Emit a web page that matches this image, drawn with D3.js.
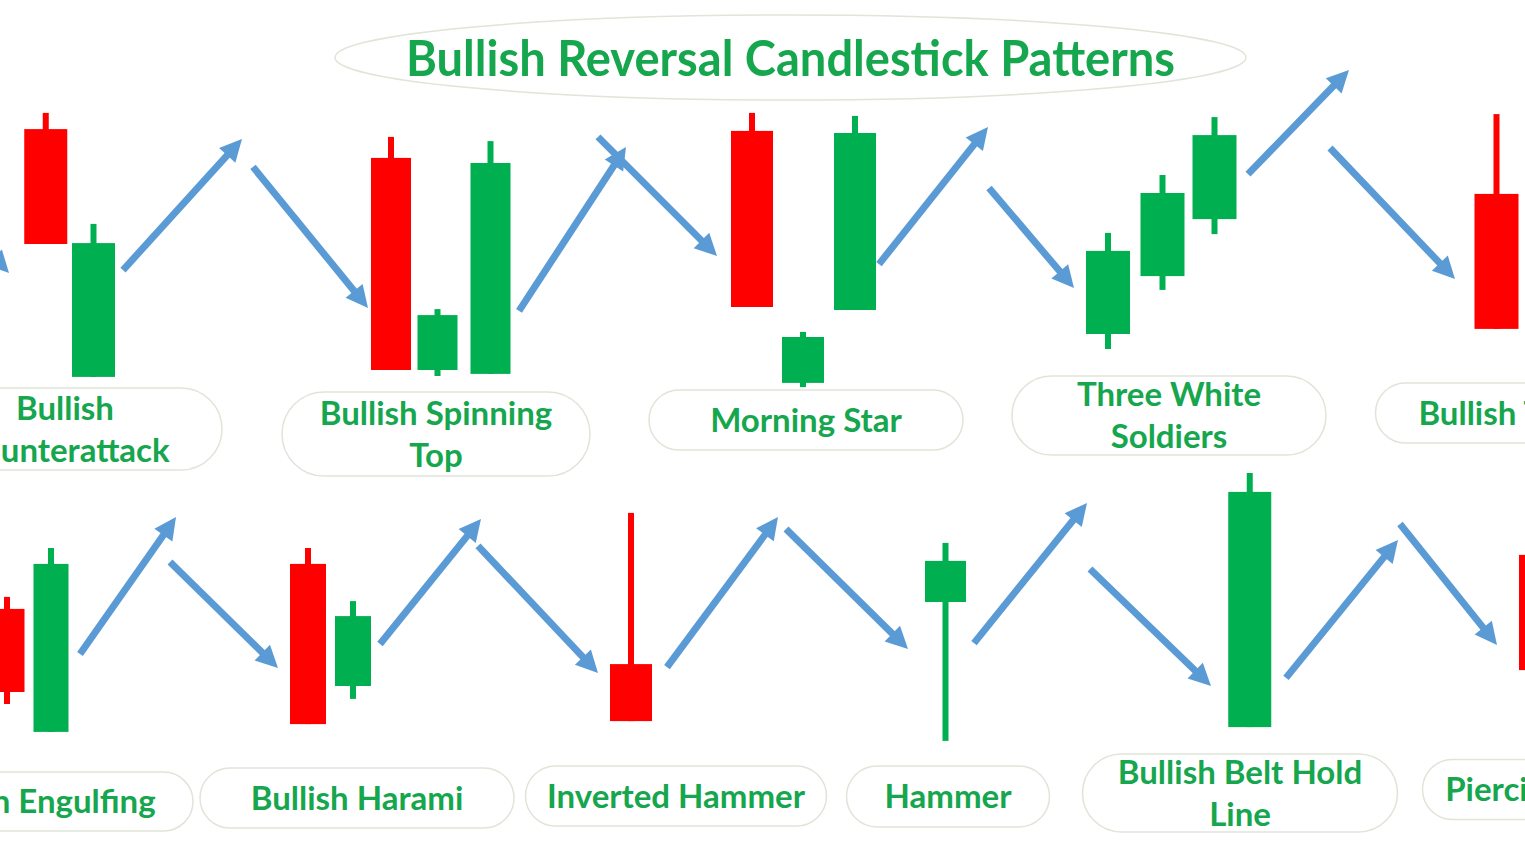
<!DOCTYPE html>
<html>
<head>
<meta charset="utf-8">
<script src="https://cdn.jsdelivr.net/npm/d3@7"></script>
<style>
  body { margin: 0; background: #ffffff; }
  svg { display: block; }
</style>
</head>
<body>
<div id="chart"></div>
<script>
// CANDLESTICK INFOGRAPHIC
// frame setup
const FRAME_WIDTH = 1525;
const FRAME_HEIGHT = 857;

// ---- data ----
const TITLE = "Bullish Reversal Candlestick Patterns";

// pattern names, "\n" marks a line break in the label
const PATTERNS = [
  "Bullish\nCounterattack", "Bullish Spinning\nTop", "Morning Star", "Three White\nSoldiers", "Bullish Tweezer",
  "Bullish Engulfing", "Bullish Harami", "Inverted Hammer", "Hammer", "Bullish Belt Hold\nLine", "Piercing Pattern"
];
// which row every pattern sits in, and its centre on the time axis
const PATTERN_ROW = [0, 0, 0, 0, 0, 1, 1, 1, 1, 1, 1];
const PATTERN_T = [2.6, 17.44, 32.24, 46.76, 61.3, 1.36, 14.28, 27.04, 37.92, 49.6, 62.5];

// candles: pattern index, time, open, high, low, close
const TOP_CANDLES = [
  {p: 0, t: 1.83,  open: 90.3, high: 95.7, low: 52.0, close: 52.0},
  {p: 0, t: 3.74,  open: 7.7,  high: 58.7, low: 7.7,  close: 52.3},
  {p: 1, t: 15.64, open: 80.7, high: 87.7, low: 10.0, close: 10.0},
  {p: 1, t: 17.5,  open: 10.0, high: 30.3, low: 8.0,  close: 28.3},
  {p: 1, t: 19.62, open: 8.7,  high: 86.3, low: 8.7,  close: 79.0},
  {p: 2, t: 30.08, open: 89.7, high: 95.7, low: 31.0, close: 31.0},
  {p: 2, t: 32.12, open: 5.7,  high: 22.7, low: 4.3,  close: 21.0},
  {p: 2, t: 34.2,  open: 30.0, high: 94.7, low: 30.0, close: 89.0},
  {p: 3, t: 44.32, open: 22.0, high: 55.7, low: 17.0, close: 49.7},
  {p: 3, t: 46.5,  open: 41.3, high: 75.0, low: 36.7, close: 69.0},
  {p: 3, t: 48.58, open: 60.3, high: 94.3, low: 55.3, close: 88.3},
  {p: 4, t: 59.86, open: 68.7, high: 95.3, low: 23.7, close: 23.7}
];
const BOTTOM_CANDLES = [
  {p: 5, t: 0.28,  open: 53.7, high: 57.7, low: 22.0, close: 26.0},
  {p: 5, t: 2.04,  open: 12.7, high: 74.0, low: 12.7, close: 68.7},
  {p: 6, t: 12.32, open: 68.7, high: 74.0, low: 15.3, close: 15.3},
  {p: 6, t: 14.12, open: 28.0, high: 56.3, low: 23.7, close: 51.3},
  {p: 7, t: 25.24, open: 35.3, high: 85.7, low: 16.3, close: 16.3},
  {p: 8, t: 37.82, open: 56.0, high: 75.7, low: 9.7,  close: 69.7},
  {p: 9, t: 49.99, open: 14.3, high: 99.0, low: 14.3, close: 92.7},
  {p: 10, t: 61.6, open: 71.7, high: 71.7, low: 33.3, close: 33.3}
];

// trend arrows: [t start, price start, t end, price end]
const TOP_ARROWS = [
  [-2.4, 66.7, 0.36, 42.3],
  [4.92, 43.3, 9.68, 87.0],
  [10.12, 77.7, 14.72, 30.7],
  [20.76, 29.7, 25.04, 84.3],
  [23.92, 87.7, 28.68, 48.0],
  [35.16, 45.3, 39.52, 91.0],
  [39.56, 70.7, 42.96, 37.3],
  [49.92, 75.3, 53.96, 110.0],
  [53.2, 84.0, 58.2, 40.3]
];
const BOTTOM_ARROWS = [
  [3.2, 38.7, 7.04, 84.3],
  [6.8, 69.3, 11.12, 34.0],
  [15.2, 42.0, 19.24, 83.7],
  [19.12, 74.7, 23.92, 32.3],
  [26.68, 34.3, 31.12, 84.3],
  [31.44, 80.3, 36.32, 40.3],
  [38.96, 42.3, 43.48, 89.0],
  [43.6, 67.0, 48.44, 28.0],
  [51.44, 30.7, 55.92, 76.7],
  [56.0, 82.0, 59.88, 41.7]
];

// ---- layout (sizes, not data) ----
const BODY_W = [43, 40, 42, 44, 44, 35, 36, 42, 41, 43, 42];
const WICK_W = 6;
const LABEL_BOX = [
  {cy: 429, w: 314, h: 82}, {cy: 434, w: 308, h: 84}, {cy: 420, w: 314, h: 60},
  {cy: 415.5, w: 314, h: 79}, {cy: 413, w: 314, h: 60},
  {cy: 801.5, w: 318, h: 59}, {cy: 798, w: 314, h: 60}, {cy: 796, w: 301, h: 60},
  {cy: 796.5, w: 203, h: 61}, {cy: 793, w: 315, h: 78}, {cy: 789.5, w: 280, h: 60}
];
const LINE_GAP = 42;
const LABEL_SIZE = 33;
const TITLE_SIZE = 50;
const TITLE_WIDTH = 769; // width of the title text in the picture

const RED = "#ff0000";
const GREEN = "#00b050";
const TEXT_GREEN = "#15a64e";
const ARROW_BLUE = "#5b9bd5";
const PILL_STROKE = "#dfe5d8";

const FRAME1 = d3.select("#chart")
                  .append("svg")
                    .attr("width", FRAME_WIDTH)
                    .attr("height", FRAME_HEIGHT);

FRAME1.append("rect")
        .attr("width", FRAME_WIDTH)
        .attr("height", FRAME_HEIGHT)
        .attr("fill", "#ffffff");

// time axis is shared, every row has its own price scale
const X_SCALE = d3.scaleLinear()
                    .domain([0, 61])
                    .range([0, 1525]);
const Y_SCALES = [
  d3.scaleLinear().domain([0, 100]).range([400, 100]),
  d3.scaleLinear().domain([0, 100]).range([770, 470])
];

// draws the candles of one row
function draw_candles(candles, yScale) {
    const g = FRAME1.append("g");
    // wicks
    g.selectAll(".wick")
        .data(candles)
        .enter()
        .append("rect")
          .attr("class", "wick")
          .attr("x", (d) => { return X_SCALE(d.t) - WICK_W / 2; })
          .attr("y", (d) => { return yScale(d.high); })
          .attr("width", WICK_W)
          .attr("height", (d) => { return yScale(d.low) - yScale(d.high); })
          .attr("fill", (d) => { return d.close < d.open ? RED : GREEN; });
    // bodies
    g.selectAll(".body")
        .data(candles)
        .enter()
        .append("rect")
          .attr("class", "body")
          .attr("x", (d) => { return X_SCALE(d.t) - BODY_W[d.p] / 2; })
          .attr("y", (d) => { return yScale(Math.max(d.open, d.close)); })
          .attr("width", (d) => { return BODY_W[d.p]; })
          .attr("height", (d) => { return Math.abs(yScale(d.open) - yScale(d.close)); })
          .attr("fill", (d) => { return d.close < d.open ? RED : GREEN; });
}

// draws the blue trend arrows of one row
function draw_arrows(arrows, yScale) {
    const HEAD_LEN = 22, HEAD_HALF = 11;
    const g = FRAME1.append("g");
    arrows.forEach((a) => {
        const x0 = X_SCALE(a[0]), y0 = yScale(a[1]);
        const x1 = X_SCALE(a[2]), y1 = yScale(a[3]);
        const len = Math.hypot(x1 - x0, y1 - y0);
        const ux = (x1 - x0) / len, uy = (y1 - y0) / len;
        // shaft stops inside the head
        g.append("line")
            .attr("x1", x0).attr("y1", y0)
            .attr("x2", x1 - ux * HEAD_LEN * 0.7)
            .attr("y2", y1 - uy * HEAD_LEN * 0.7)
            .attr("stroke", ARROW_BLUE)
            .attr("stroke-width", 7);
        const bx = x1 - ux * HEAD_LEN, by = y1 - uy * HEAD_LEN;
        g.append("path")
            .attr("d", d3.line()([[x1, y1], [bx - uy * HEAD_HALF, by + ux * HEAD_HALF], [bx + uy * HEAD_HALF, by - ux * HEAD_HALF]]) + "Z")
            .attr("fill", ARROW_BLUE);
    });
}

draw_candles(TOP_CANDLES, Y_SCALES[0]);
draw_candles(BOTTOM_CANDLES, Y_SCALES[1]);
draw_arrows(TOP_ARROWS, Y_SCALES[0]);
draw_arrows(BOTTOM_ARROWS, Y_SCALES[1]);

// title in its ellipse
FRAME1.append("ellipse")
        .attr("cx", 790.5)
        .attr("cy", 57.5)
        .attr("rx", 455.5)
        .attr("ry", 42.5)
        .attr("fill", "#ffffff")
        .attr("stroke", PILL_STROKE)
        .attr("stroke-width", 1.5);
FRAME1.append("text")
        .attr("x", 790.5)
        .attr("y", 57.5 + TITLE_SIZE * 0.36)
        .attr("text-anchor", "middle")
        .attr("font-family", "Lato, 'Noto Sans', sans-serif")
        .attr("font-weight", "bold")
        .attr("font-size", TITLE_SIZE)
        .attr("fill", TEXT_GREEN)
        .attr("textLength", TITLE_WIDTH)
        .attr("lengthAdjust", "spacingAndGlyphs")
        .text(TITLE);

// pattern labels in rounded pills
const LABELS = FRAME1.selectAll(".label")
    .data(PATTERNS)
    .enter()
    .append("g")
      .attr("class", "label")
      .attr("transform", (d, i) => { return "translate(" + X_SCALE(PATTERN_T[i]) + "," + LABEL_BOX[i].cy + ")"; });

LABELS.append("rect")
    .attr("x", (d, i) => { return -LABEL_BOX[i].w / 2; })
    .attr("y", (d, i) => { return -LABEL_BOX[i].h / 2; })
    .attr("width", (d, i) => { return LABEL_BOX[i].w; })
    .attr("height", (d, i) => { return LABEL_BOX[i].h; })
    .attr("rx", (d, i) => { return LABEL_BOX[i].h / 2; })
    .attr("fill", "#ffffff")
    .attr("stroke", PILL_STROKE)
    .attr("stroke-width", 1.5);

LABELS.each(function(d) {
    const lines = d.split("\n");
    lines.forEach((line, k) => {
        d3.select(this).append("text")
            .attr("x", 0)
            .attr("y", (k - (lines.length - 1) / 2) * LINE_GAP + LABEL_SIZE * 0.36)
            .attr("text-anchor", "middle")
            .attr("font-family", "Lato, 'Noto Sans', sans-serif")
            .attr("font-weight", "bold")
            .attr("font-size", LABEL_SIZE)
            .attr("fill", TEXT_GREEN)
            .text(line);
    });
});
</script>
</body>
</html>
